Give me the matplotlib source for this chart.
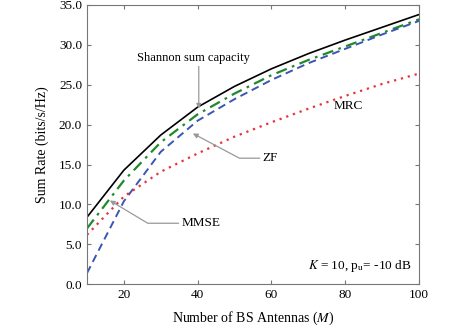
import matplotlib
matplotlib.use('Agg')
import matplotlib.pyplot as plt

# Number of BS antennas
antennas = [10, 20, 30, 40, 50, 60, 70, 80, 90, 100]

# Sum rate (bits/s/Hz)
shannon = [8.4, 14.3, 18.7, 22.2, 24.8, 27.0, 28.9, 30.6, 32.2, 33.8]
mmse = [7.0, 13.0, 17.8, 21.3, 23.9, 26.2, 28.1, 29.8, 31.5, 33.2]
zf = [1.4, 10.4, 16.6, 20.5, 23.2, 25.6, 27.7, 29.5, 31.3, 33.0]
mrc = [6.2, 11.0, 14.1, 16.4, 18.5, 20.3, 22.0, 23.6, 25.1, 26.4]

y_ticks = [0, 5, 10, 15, 20, 25, 30, 35]
x_ticks = [20, 40, 60, 80, 100]

plt.rcParams['font.family'] = ['Liberation Serif', 'DejaVu Serif']
plt.rcParams['mathtext.fontset'] = 'stix'

fig = plt.figure(figsize=(4.74, 3.30), dpi=100)
ax = fig.add_axes([0.1835, 0.1385, 0.7005, 0.8465])

ax.plot(antennas, shannon, color='black', lw=1.2, ls='-')
ax.plot(antennas, mmse, color='#1f8a2a', lw=1.6, ls=(0, (5, 2.5, 1.2, 2.5)))
ax.plot(antennas, zf, color='#3a55b5', lw=1.4, ls=(0, (4, 2.5)))
ax.plot(antennas, mrc, color='#e8323a', lw=1.6, ls=(0, (1, 2.2)))

ax.set_xlim(10, 100)
ax.set_ylim(0, 35)
ax.set_xticks(x_ticks)
ax.set_yticks(y_ticks)
ax.set_yticklabels([f'{v:.1f}' for v in y_ticks])
ax.tick_params(direction='in', top=True, right=True, length=3,
               color='#777777', labelsize=9.5)
for s in ax.spines.values():
    s.set_color('#777777')
    s.set_linewidth(0.8)

ax.set_xlabel('Number of BS Antennas ($\\mathit{M}$)', fontsize=10, labelpad=6)
ax.set_ylabel('Sum Rate (bits/s/Hz)', fontsize=10, labelpad=7)

arrow = dict(arrowstyle='-|>', color='#999999', lw=0.9, mutation_scale=7,
             shrinkA=0, shrinkB=0)

# Shannon label with a vertical arrow under it
ax.text(38.8, 28.3, 'Shannon sum capacity', ha='center', va='center', fontsize=9)
ax.annotate('', xy=(40.3, 22.0), xytext=(40.3, 27.3), arrowprops=arrow)

ax.annotate('ZF', xy=(38.7, 18.9), xytext=(57.6, 15.8),
            ha='left', va='center', fontsize=9.5,
            arrowprops=dict(arrow, connectionstyle='angle,angleA=0,angleB=-28,rad=0'))

ax.annotate('MMSE', xy=(16.2, 10.5), xytext=(35.6, 7.65),
            ha='left', va='center', fontsize=9.5,
            arrowprops=dict(arrow, connectionstyle='angle,angleA=0,angleB=-31,rad=0'))

ax.text(80.7, 22.4, 'MRC', ha='center', va='center', fontsize=9.5)

ax.text(98, 2.3, '$\\mathit{K}$ = 10, p$_{\\mathrm{u}}$= -10 dB',
        ha='right', va='center', fontsize=9.5)

fig.savefig('out.png', dpi=100)
